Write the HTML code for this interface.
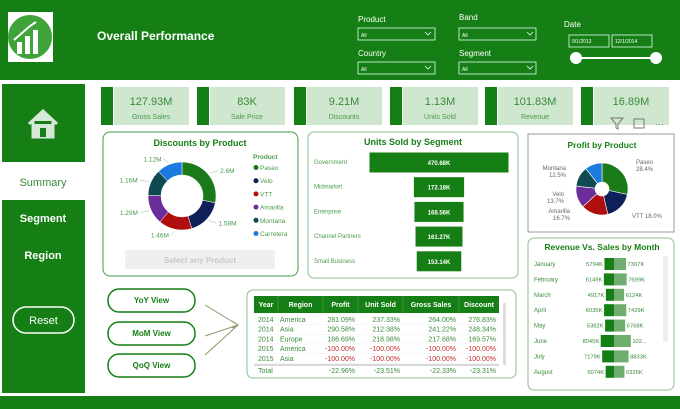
<!DOCTYPE html>
<html><head><meta charset="utf-8">
<style>
html,body{margin:0;padding:0;background:#fff;width:680px;height:409px;overflow:hidden}
svg{display:block;font-family:"Liberation Sans",sans-serif}
</style></head>
<body>
<svg id="s" width="680" height="409" viewBox="0 0 680 409" xmlns="http://www.w3.org/2000/svg">
<rect x="0" y="0" width="680" height="80" fill="#157f15"/>
<g>
<rect x="8" y="12" width="45" height="50" fill="#fff"/>
<circle cx="30" cy="37" r="22" fill="#3fa33a"/>
<rect x="17" y="42" width="5" height="12" fill="#fff"/><rect x="25" y="36" width="5" height="18" fill="#fff"/><rect x="33" y="30" width="5" height="24" fill="#fff"/>
<path d="M14 40 L30 26 L36 22" stroke="#fff" stroke-width="2" fill="none"/>
</g>
<text x="97" y="40" font-size="12" font-weight="bold" fill="#fff">Overall Performance</text>
<g font-size="8" fill="#fff">
<text x="358" y="22">Product</text>
<text x="358" y="56">Country</text>
<text x="459" y="20">Band</text>
<text x="459" y="56">Segment</text>
<text x="564" y="27">Date</text>
</g>
<g fill="none" stroke="#dfe" stroke-width="0.8" font-size="5" >
<g><rect x="358" y="28" width="77" height="12"/><text x="361" y="37" fill="#fff" stroke="none">All</text><path d="M425 32 l3 3 l3 -3"/></g>
<g><rect x="358" y="62" width="77" height="12"/><text x="361" y="71" fill="#fff" stroke="none">All</text><path d="M425 66 l3 3 l3 -3"/></g>
<g><rect x="459" y="28" width="77" height="12"/><text x="462" y="37" fill="#fff" stroke="none">All</text><path d="M527 32 l3 3 l3 -3"/></g>
<g><rect x="459" y="62" width="77" height="12"/><text x="462" y="71" fill="#fff" stroke="none">All</text><path d="M527 66 l3 3 l3 -3"/></g>
<g><rect x="569" y="35" width="40" height="12"/><text x="572" y="43" fill="#fff" stroke="none">9/1/2013</text></g>
<g><rect x="612" y="35" width="40" height="12"/><text x="615" y="43" fill="#fff" stroke="none">12/1/2014</text></g>
</g>
<g>
<line x1="576" y1="58" x2="656" y2="58" stroke="#fff" stroke-width="2"/>
<circle cx="576" cy="58" r="6" fill="#fff"/><circle cx="656" cy="58" r="6" fill="#fff"/>
</g>
<rect x="0" y="396" width="680" height="13" fill="#157f15"/>
<g>
<rect x="2" y="84" width="83" height="78" fill="#157f15"/>
<path d="M29 124 L43 111 L57 124 M33 121 V137 H53 V121" fill="#d8e8d8" stroke="#d8e8d8" stroke-width="3"/>
<rect x="40" y="128" width="6" height="9" fill="#157f15"/>
</g>
<text x="43" y="186" font-size="11" fill="#3a8a3a" text-anchor="middle">Summary</text>
<rect x="2" y="200" width="83" height="193" fill="#157f15"/>
<text x="43" y="222" font-size="11" font-weight="bold" fill="#fff" text-anchor="middle">Segment</text>
<text x="43" y="259" font-size="11" font-weight="bold" fill="#fff" text-anchor="middle">Region</text>
<g><rect x="13" y="307" width="61" height="26" rx="13" fill="none" stroke="#fff" stroke-width="1.5"/><text x="43.5" y="324" font-size="11" fill="#fff" text-anchor="middle">Reset</text></g>
<g id="kpis"></g>
<rect x="103" y="132" width="195" height="144" rx="7" fill="#fff" stroke="#4a9a4a"/>
<text x="200" y="146" font-size="9" font-weight="bold" fill="#157f15" text-anchor="middle">Discounts by Product</text>
<g id="donut"></g>
<g><rect x="125" y="250" width="150" height="19" fill="#efefef"/><text x="200" y="263" font-size="8" font-weight="bold" fill="#c8c8c8" text-anchor="middle">Select any Product</text></g>
<rect x="308" y="132" width="210" height="146" rx="6" fill="#fff" stroke="#8cc08c"/>
<text x="413" y="145" font-size="9" font-weight="bold" fill="#157f15" text-anchor="middle">Units Sold by Segment</text>
<g id="funnel"></g>
<rect x="528" y="134" width="146" height="98" fill="#fff" stroke="#999"/>
<g fill="none" stroke="#777"><path d="M611 118 h12 l-5 6 v5 l-2 -1 v-4 z"/><rect x="634" y="119" width="10" height="9"/><text x="655" y="127" font-size="9" fill="#777" stroke="none">···</text></g>
<text x="602" y="148" font-size="8.5" font-weight="bold" fill="#157f15" text-anchor="middle">Profit by Product</text>
<g id="pie"></g>
<rect x="528" y="238" width="146" height="152" rx="6" fill="#fff" stroke="#8cc08c"/>
<text x="602" y="250" font-size="8.5" font-weight="bold" fill="#157f15" text-anchor="middle">Revenue Vs. Sales by Month</text>
<rect x="663" y="256" width="5" height="86" fill="#eee"/>
<g id="rev"></g>
<g font-size="8" font-weight="bold" fill="#157f15" text-anchor="middle">
<g><rect x="108" y="289" width="87" height="23" rx="11" fill="#fff" stroke="#157f15" stroke-width="1.5"/><text x="151.5" y="303">YoY View</text></g>
<g><rect x="108" y="322" width="87" height="23" rx="11" fill="#fff" stroke="#157f15" stroke-width="1.5"/><text x="151.5" y="336">MoM View</text></g>
<g><rect x="108" y="354" width="87" height="23" rx="11" fill="#fff" stroke="#157f15" stroke-width="1.5"/><text x="151.5" y="368">QoQ View</text></g>
</g>
<g stroke="#8a9a6a" fill="none"><path d="M205 305 L238 325 M205 336 L238 325 M205 355 L238 325 M232 321 L238 325 L232 328"/></g>
<rect x="247" y="290" width="269" height="88" rx="6" fill="#fff" stroke="#8cc08c"/>
<g id="tbl"></g>
</svg>
<script>
const NS='http://www.w3.org/2000/svg';
function mk(p,t,a,txt){const e=document.createElementNS(NS,t);for(const k in a)e.setAttribute(k,a[k]);if(txt!==undefined)e.textContent=txt;p.appendChild(e);return e;}
const G='#157f15';
const kpiValues=['127.93M','83K','9.21M','1.13M','101.83M','16.89M'];
const kpiLabels=['Gross Sales','Sale Price','Discounts','Units Sold','Revenue','Profit'];
const kg=document.getElementById('kpis');
const kx=[101,197,294,390,485,581];
kpiValues.forEach((v,i)=>{
 const g=mk(kg,'g',{});
 
 
 mk(g,'rect',{x:kx[i],y:87,width:12,height:38,fill:G});
 mk(g,'rect',{x:kx[i]+13,y:87,width:75,height:38,fill:'#cfe6cf'});
 mk(g,'text',{x:kx[i]+50,y:105,'font-size':11,fill:'#3a8a3a','text-anchor':'middle'},v);
 if(i<5) mk(g,'text',{x:kx[i]+50,y:119,'font-size':7,fill:'#4a9a4a','text-anchor':'middle'},kpiLabels[i]);
});
const prodNames=['Paseo','Velo','VTT','Amarilla','Montana','Carretera'];
const prodColors=['#1a7a1a','#0e1f5a','#b00d0d','#6a2d9a','#0e4a50','#1a7ae0'];
const discValues=[2.6,1.58,1.46,1.29,1.16,1.12];
const discLabels=['2.6M','1.58M','1.46M','1.29M','1.16M','1.12M'];
function arc(cx,cy,r0,r1,a0,a1){const p=(r,a)=>[cx+r*Math.sin(a),cy-r*Math.cos(a)];const l=a1-a0>Math.PI?1:0;
 const [x0,y0]=p(r1,a0),[x1,y1]=p(r1,a1),[x2,y2]=p(r0,a1),[x3,y3]=p(r0,a0);
 return `M${x0} ${y0}A${r1} ${r1} 0 ${l} 1 ${x1} ${y1}L${x2} ${y2}A${r0} ${r0} 0 ${l} 0 ${x3} ${y3}Z`;}
const dg=document.getElementById('donut');
const DCX=182, DCY=196;
let tot=discValues.reduce((a,b)=>a+b,0),a=0;
discValues.forEach((v,i)=>{const a1=a+v/tot*2*Math.PI;
 const s=mk(dg,'path',{d:arc(DCX,DCY,21,34,a,a1),fill:prodColors[i],stroke:'#fff','stroke-width':0.5});
 
 
 const m=(a+a1)/2, lx=DCX+44*Math.sin(m), ly=DCY-40*Math.cos(m);
 const right=Math.sin(m)>=0;
 mk(dg,'line',{x1:DCX+36*Math.sin(m),y1:DCY-36*Math.cos(m),x2:lx+(right?2:-2),y2:ly,stroke:'#aaa','stroke-width':0.5});
 const t=mk(dg,'text',{x:lx+(right?4:-4),y:ly+2.5,'font-size':6.5,fill:'#4a9a4a','text-anchor':right?'start':'end'},discLabels[i]);
 
 
 a=a1;});
const lg=mk(dg,'g',{});


mk(lg,'text',{x:253,y:159,'font-size':6.5,'font-weight':'bold',fill:'#4a9a4a'},'Product');
prodNames.forEach((n,i)=>{mk(lg,'circle',{cx:256,cy:167.5+i*13.2,r:2.5,fill:prodColors[i]});
 mk(lg,'text',{x:260,y:170+i*13.2,'font-size':6.5,fill:'#4a9a4a'},n);});
const segNames=['Government','Midmarket','Enterprise','Channel Partners','Small Business'];
const segValues=[470.68,172.18,168.56,161.27,153.14];
const segLabels=['470.68K','172.18K','168.56K','161.27K','153.14K'];
const fg=document.getElementById('funnel');
const fx=v=>v/470.68*140, fc=439;
segValues.forEach((v,i)=>{const y=152+i*24.7;
 mk(fg,'text',{x:314,y:y+12,'font-size':6,fill:'#4a9a4a'},segNames[i]);
 const r=mk(fg,'rect',{x:fc-fx(v)/2,y:y,width:fx(v),height:21,fill:G,stroke:'#fff'});
 
 
 mk(fg,'text',{x:fc,y:y+13,'font-size':6,'font-weight':'bold',fill:'#fff','text-anchor':'middle'},segLabels[i]);});
const pieValues=[28.4,18.0,16.7,13.7,12.5,10.7];
const pg=document.getElementById('pie');
tot=pieValues.reduce((a,b)=>a+b,0);a=0;
pieValues.forEach((v,i)=>{const a1=a+v/tot*2*Math.PI;
 const s=mk(pg,'path',{d:arc(602,189,7,26,a,a1),fill:prodColors[i],stroke:'#fff','stroke-width':0.6});
 
 a=a1;});
const pl=[['Paseo','28.4%',636,164,'start'],['Montana','12.5%',566,170,'end'],['Velo','13.7%',564,196,'end'],['Amarilla','16.7%',570,213,'end'],['VTT 18.0%','',632,218,'start']];
pl.forEach(p=>{const t=mk(pg,'text',{x:p[2],y:p[3],'font-size':6,fill:'#666','text-anchor':p[4]},p[0]);
 
 
 if(p[1])mk(pg,'text',{x:p[2],y:p[3]+7,'font-size':6,fill:'#666','text-anchor':p[4]},p[1]);});
const months=['January','February','March','April','May','June','July','August'];
const revValues=[5794,6149,4917,6035,5382,8045,7179,5074];
const salesValues=[7307,7699,6124,7429,6768,10200,8833,6326];
const revLabels=['5794K','6149K','4917K','6035K','5382K','8045K','7179K','5074K'];
const salesLabels=['7307K','7699K','6124K','7429K','6768K','102...','8833K','6326K'];
const rg=document.getElementById('rev');
const sx=v=>v*0.00165, cx0=614;
months.forEach((m,i)=>{const y=256+i*15.4;
 mk(rg,'text',{x:534,y:y+10,'font-size':6,fill:'#3a8a3a'},m);
 const b1=mk(rg,'rect',{x:cx0-sx(revValues[i]),y:y+2,width:sx(revValues[i]),height:12,fill:G});
 
 
 const b2=mk(rg,'rect',{x:cx0,y:y+2,width:sx(salesValues[i]),height:12,fill:'#6fae6f'});
 
 
 mk(rg,'text',{x:cx0-sx(revValues[i])-1.5,y:y+10,'font-size':5.8,fill:'#3a8a3a','text-anchor':'end'},revLabels[i]);
 mk(rg,'text',{x:cx0+sx(salesValues[i])+1.5,y:y+10,'font-size':5.8,fill:'#3a8a3a'},salesLabels[i]);});
const cols=['Year','Region','Profit','Unit Sold','Gross Sales','Discount'];
const colX=[254,278,323,358,403,459,499];
const rowYears=['2014','2014','2014','2015','2015'];
const rowRegions=['America','Asia','Europe','America','Asia'];
const rowProfit=['281.09%','290.58%','186.69%','-100.00%','-100.00%'];
const rowUnits=['237.33%','212.38%','218.98%','-100.00%','-100.00%'];
const rowGross=['264.00%','241.22%','217.68%','-100.00%','-100.00%'];
const rowDisc=['276.83%','248.34%','169.57%','-100.00%','-100.00%'];
const totals=['-22.96%','-23.51%','-22.33%','-23.31%'];
const tg=document.getElementById('tbl');
mk(tg,'rect',{x:254,y:296,width:245,height:17,fill:G});
cols.forEach((c,i)=>{
 if(i>0) mk(tg,'line',{x1:colX[i],y1:296,x2:colX[i],y2:313,stroke:'#5aa05a','stroke-width':0.6});
 const t=mk(tg,'text',{x:(colX[i]+colX[i+1])/2,y:307,'font-size':7,'font-weight':'bold',fill:'#fff','text-anchor':'middle'},c);
 
 });
rowYears.forEach((yr,r)=>{const y=322+r*9.7;
 const neg=rowProfit[r].startsWith('-'), col=neg?'#c03030':'#3a8a3a';
 mk(tg,'line',{x1:254,y1:y+2.5,x2:499,y2:y+2.5,stroke:'#eee','stroke-width':0.5});
 mk(tg,'text',{x:258,y:y,'font-size':7,fill:'#3a8a3a'},yr);
 mk(tg,'text',{x:280,y:y,'font-size':7,fill:'#3a8a3a'},rowRegions[r]);
 [rowProfit,rowUnits,rowGross,rowDisc].forEach((arr,j)=>mk(tg,'text',{x:colX[j+3]-3,y:y,'font-size':7,fill:col,'text-anchor':'end'},arr[r]));});
mk(tg,'line',{x1:254,y1:365,x2:499,y2:365,stroke:'#999','stroke-width':0.8});
mk(tg,'text',{x:258,y:373,'font-size':7,fill:'#3a8a3a'},'Total');
totals.forEach((t,j)=>mk(tg,'text',{x:colX[j+3]-3,y:373,'font-size':7,fill:'#3a8a3a','text-anchor':'end'},t));
const sb=mk(tg,'rect',{x:503,y:303,width:3,height:62,fill:'#ddd'});


</script>
</body></html>
